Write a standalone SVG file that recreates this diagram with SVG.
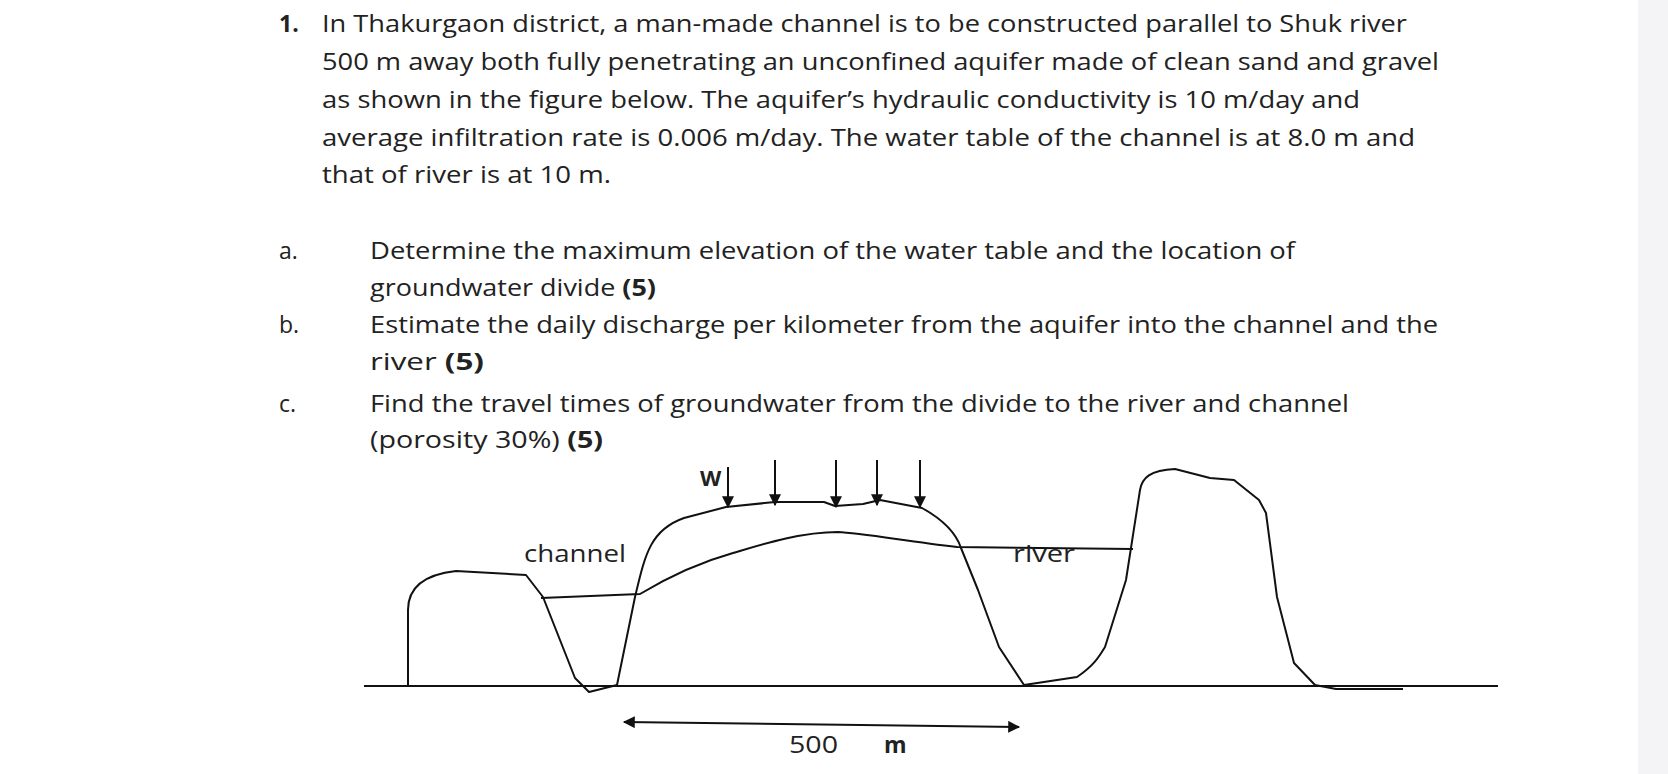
<svg xmlns="http://www.w3.org/2000/svg" width="1668" height="774" viewBox="0 0 1668 774">
<defs>
<style>
text{font-family:"Open Sans","Liberation Sans",sans-serif;font-size:23px;fill:#222}
.b{font-weight:bold}
.l{fill:none;stroke:#111;stroke-width:2;stroke-linejoin:round}
.d{font-size:22px}
</style>
<marker id="ah" viewBox="0 0 10 10" refX="9" refY="5" markerWidth="6" markerHeight="8" orient="auto"><path d="M0,0L10,5L0,10z" fill="#111"/></marker>
<marker id="dh" viewBox="0 0 10 10" refX="9" refY="5" markerWidth="13" markerHeight="12" markerUnits="userSpaceOnUse" orient="auto-start-reverse"><path d="M0,0L10,5L0,10z" fill="#111"/></marker>
</defs>
<rect width="1668" height="774" fill="#fff"/>
<rect x="1638" y="0" width="30" height="774" fill="#f4f4f6"/>
<g id="question">
<text x="279" y="32" class="b">1.</text>
<text x="322" y="32" textLength="1085" lengthAdjust="spacingAndGlyphs">In Thakurgaon district, a man-made channel is to be constructed parallel to Shuk river</text>
<text x="322" y="70" textLength="1117" lengthAdjust="spacingAndGlyphs">500 m away both fully penetrating an unconfined aquifer made of clean sand and gravel</text>
<text x="322" y="108" textLength="1038" lengthAdjust="spacingAndGlyphs">as shown in the figure below. The aquifer’s hydraulic conductivity is 10 m/day and</text>
<text x="322" y="146" textLength="1093" lengthAdjust="spacingAndGlyphs">average infiltration rate is 0.006 m/day. The water table of the channel is at 8.0 m and</text>
<text x="322" y="183" textLength="289" lengthAdjust="spacingAndGlyphs">that of river is at 10 m.</text>
<text x="279" y="259">a.</text>
<text x="370" y="259" textLength="925" lengthAdjust="spacingAndGlyphs">Determine the maximum elevation of the water table and the location of</text>
<text x="370" y="296" textLength="286" lengthAdjust="spacingAndGlyphs">groundwater divide <tspan class="b">(5)</tspan></text>
<text x="279" y="333">b.</text>
<text x="370" y="333" textLength="1068" lengthAdjust="spacingAndGlyphs">Estimate the daily discharge per kilometer from the aquifer into the channel and the</text>
<text x="370" y="370" textLength="114" lengthAdjust="spacingAndGlyphs">river  <tspan class="b">(5)</tspan></text>
<text x="279" y="412">c.</text>
<text x="370" y="412" textLength="979" lengthAdjust="spacingAndGlyphs">Find the travel times of groundwater from the divide to the river and channel</text>
<text x="370" y="448" textLength="233" lengthAdjust="spacingAndGlyphs">(porosity 30%)  <tspan class="b">(5)</tspan></text>
</g>
<g id="terrain">
<line class="l" x1="364" y1="686" x2="1498" y2="686"/>
<path class="l" d="M408,686 L408,610 C408,590 420,575 456,571 L526,575 L543,597 L575,678 L589,692 L617,685 L635,597 C645,555 650,530 684,518 L726,507 L775,502 L824,502 L835,506 L863,504 L880,500 L922,508 C940,518 955,530 961,548 L978,590 L999,647 L1024,685 L1077,677 C1095,665 1100,655 1105,647 L1126,580 L1140,490 C1142,478 1150,470 1175,469 L1210,478 L1234,480 L1259,500 L1266,513 L1277,597 L1294,663 L1315,685 L1336,689 L1403,689"/>
</g>
<g id="watertable">
<path class="l" d="M541,598 L640,594 C655,585 690,565 733,553 C760,545 800,532 838,532 C860,533 900,540 957,547 L1133,549"/>
</g>
<g id="connectors">
<line class="l" x1="728" y1="467" x2="728" y2="507" marker-end="url(#ah)" stroke-width="1.5"/>
<line class="l" x1="775" y1="460" x2="775" y2="505" marker-end="url(#ah)" stroke-width="1.5"/>
<line class="l" x1="836" y1="460" x2="836" y2="507" marker-end="url(#ah)" stroke-width="1.5"/>
<line class="l" x1="877" y1="460" x2="877" y2="505" marker-end="url(#ah)" stroke-width="1.5"/>
<line class="l" x1="920" y1="460" x2="920" y2="507" marker-end="url(#ah)" stroke-width="1.5"/>
<line class="l" x1="624" y1="722" x2="1019" y2="727" stroke-width="2.5" marker-start="url(#dh)" marker-end="url(#dh)"/>
</g>
<g id="labels">
<text x="700" y="486" class="b d" font-size="19">W</text>
<text x="524" y="562" textLength="102" lengthAdjust="spacingAndGlyphs">channel</text>
<text x="1013" y="562" textLength="62" lengthAdjust="spacingAndGlyphs">river</text>
<text x="789" y="753" textLength="49" lengthAdjust="spacingAndGlyphs">500</text>
<text x="884" y="753" class="b">m</text>
</g>
</svg>
